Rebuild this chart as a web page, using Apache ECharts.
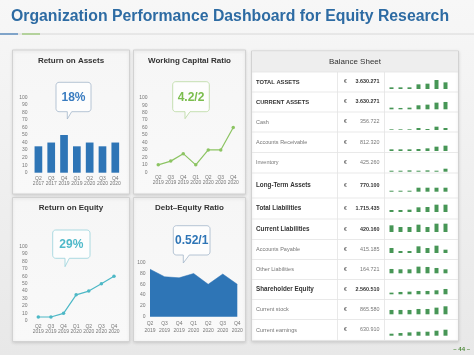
<!DOCTYPE html>
<html><head><meta charset="utf-8">
<script src="https://cdn.jsdelivr.net/npm/echarts@6/dist/echarts.min.js"></script>
<style>html,body{margin:0;padding:0;background:#eee}#c{width:474px;height:355px}</style>
</head><body><div id="c"></div>
<script>
// ---------------- DATA ----------------
const pageTitle = 'Organization Performance Dashboard for Equity Research';
const panelTitles = ['Return on Assets', 'Working Capital Ratio', 'Return on Equity', 'Debt–Equity Ratio'];
const kpiTexts = ['18%', '4.2/2', '29%', '0.52/1'];

const roaCategories = ['Q2\n2017', 'Q3\n2017', 'Q4\n2019', 'Q1\n2019', 'Q2\n2020', 'Q3\n2020', 'Q4\n2020'];
const roaValues = [35, 40, 50, 35, 40, 35, 40];

const wcrCategories = ['Q2\n2019', 'Q3\n2019', 'Q4\n2019', 'Q1\n2020', 'Q2\n2020', 'Q3\n2020', 'Q4\n2020'];
const wcrValues = [10, 15, 25, 10, 30, 30, 60];

const roeCategories = ['Q2\n2019', 'Q3\n2019', 'Q4\n2019', 'Q1\n2020', 'Q2\n2020', 'Q3\n2020', 'Q4\n2020'];
const roeValues = [5, 5, 10, 35, 40, 50, 60];

const derCategories = ['Q2\n2019', 'Q3\n2019', 'Q4\n2019', 'Q1\n2020', 'Q2\n2020', 'Q3\n2020', 'Q4\n2020'];
const derValues = [88, 74, 72, 80, 60, 79, 60];

const bsTitle = 'Balance Sheet';
const bsLabels = ['TOTAL ASSETS', 'CURRENT ASSETS', 'Cash', 'Accounts Receivable', 'Inventory',
  'Long-Term Assets', 'Total Liabilities', 'Current Liabilities', 'Accounts Payable', 'Other Liabilities',
  'Shareholder Equity', 'Current stock', 'Current earnings'];
const bsCurrency = '€';
const bsValues = ['3.630.271', '3.630.271', '356.722', '812.320', '425.260', '770.100', '1.715.435',
  '420.160', '415.185', '164.721', '2.560.510', '865.580', '630.910'];
const bsSparkTotalAssets = [5, 5, 5, 14, 16, 27, 20];
const bsSparkCurrentAssets = [5, 4, 5, 12, 14, 20, 22];
const bsSparkCash = [2, 2, 2, 6, 3, 10, 6];
const bsSparkReceivable = [5, 5, 5, 6, 8, 13, 16];
const bsSparkInventory = [3, 3, 4, 3, 4, 3, 9];
const bsSparkLongTerm = [3, 3, 3, 12, 12, 12, 12];
const bsSparkTotalLiab = [6, 6, 7, 14, 15, 22, 22];
const bsSparkCurrentLiab = [20, 15, 15, 22, 15, 25, 25];
const bsSparkPayable = [15, 6, 6, 20, 15, 22, 10];
const bsSparkOtherLiab = [13, 12, 12, 20, 19, 16, 12];
const bsSparkEquity = [5, 7, 8, 10, 10, 12, 16];
const bsSparkStock = [13, 13, 13, 16, 16, 20, 24];
const bsSparkEarnings = [6, 8, 10, 12, 12, 15, 18];
const pageNumber = '– 44 –';

// ---------------- LAYOUT / STYLE ----------------
const sparkSets = [bsSparkTotalAssets, bsSparkCurrentAssets, bsSparkCash, bsSparkReceivable, bsSparkInventory,
  bsSparkLongTerm, bsSparkTotalLiab, bsSparkCurrentLiab, bsSparkPayable, bsSparkOtherLiab,
  bsSparkEquity, bsSparkStock, bsSparkEarnings];
const rowLines = [72, 92, 112, 132, 152.5, 173, 198, 219, 239.5, 259.5, 279.5, 299.5, 319.5, 340.5];
const sparkBase = [89, 109.3, 130, 151, 171.7, 191.7, 212, 232, 253, 273.3, 294.3, 314.3, 335.7];
const boldCaps = [0, 1];
const boldRows = [5, 6, 7, 10];

const BLUE = '#2e75b6';
const GREEN = '#8cc462';
const TEAL = '#4db8c6';
const SPARK = '#479656';
const FONT = '"Liberation Sans", Arial, sans-serif';

const chart = echarts.init(document.getElementById('c'), null, {renderer: 'canvas'});

function arcPts(cx, cy, r, a0, a1) {
  const pts = [];
  for (let k = 0; k <= 4; k++) {
    const a = a0 + (a1 - a0) * k / 4;
    pts.push([cx + r * Math.cos(a), cy + r * Math.sin(a)]);
  }
  return pts;
}
function bubblePoints(x, y, w, h, r, px, pw, ph) {
  const P = Math.PI;
  let pts = [];
  pts = pts.concat(arcPts(x + r, y + r, r, P, 1.5 * P));
  pts = pts.concat(arcPts(x + w - r, y + r, r, 1.5 * P, 2 * P));
  pts = pts.concat(arcPts(x + w - r, y + h - r, r, 0, 0.5 * P));
  pts.push([px + pw, y + h], [px, y + h + ph], [px, y + h]);
  pts = pts.concat(arcPts(x + r, y + h - r, r, 0.5 * P, P));
  return pts;
}

const graphics = [];
graphics.push({type: 'rect', shape: {x: 0, y: 0, width: 474, height: 355}, z: -10,
  style: {fill: new echarts.graphic.LinearGradient(0, 0, 0, 1, [{offset: 0, color: '#f7f7f7'}, {offset: 1, color: '#e8e8e8'}])}});
graphics.push({type: 'line', shape: {x1: 0, y1: 34, x2: 474, y2: 34}, style: {stroke: '#d8d8d8', lineWidth: 1}, z: -5});
graphics.push({type: 'line', shape: {x1: 0, y1: 34, x2: 18, y2: 34}, style: {stroke: '#3b78b5', lineWidth: 1.2}, z: -4});
graphics.push({type: 'line', shape: {x1: 22, y1: 34, x2: 40, y2: 34}, style: {stroke: '#92c46a', lineWidth: 1.2}, z: -4});

const panels = [
  {x: 12.5, y: 50, w: 117, h: 144},
  {x: 133.5, y: 50, w: 112, h: 144},
  {x: 12.5, y: 197.5, w: 117, h: 144},
  {x: 133.5, y: 197.5, w: 112, h: 144}
];
panels.forEach((p, i) => {
  graphics.push({type: 'rect', shape: {x: p.x, y: p.y, width: p.w, height: p.h}, z: -3,
    style: {fill: new echarts.graphic.LinearGradient(0, 0, 0, 1, [{offset: 0, color: '#f6f6f6'}, {offset: 1, color: '#f9f9f9'}]),
      stroke: '#d2d2d2', lineWidth: 1, shadowBlur: 3, shadowColor: 'rgba(0,0,0,0.12)', shadowOffsetY: 1}});
  graphics.push({type: 'text', x: p.x + p.w / 2, y: p.y + 10.5, z: 1,
    style: {text: panelTitles[i], fill: '#333', font: 'bold 8px ' + FONT, textAlign: 'center', textVerticalAlign: 'middle'}});
});

const bubbles = [
  {x: 56, y: 82.3, w: 35, h: 29.4, px: 67.3, pw: 4.4, ph: 7.3, stroke: '#a3b6ca', color: '#3a7cc0'},
  {x: 172.7, y: 81.7, w: 36.6, h: 30, px: 185, pw: 5, ph: 7, stroke: '#b8d89e', color: '#7bbd4e'},
  {x: 52.7, y: 230, w: 37.3, h: 28.3, px: 65, pw: 4.3, ph: 8.4, stroke: '#98d2da', color: '#4fb9c9'},
  {x: 173.3, y: 225.7, w: 36.7, h: 29.3, px: 183.3, pw: 6, ph: 8, stroke: '#a3b6ca', color: BLUE}
];
bubbles.forEach((b, i) => {
  graphics.push({type: 'polygon', z: 1, shape: {points: bubblePoints(b.x, b.y, b.w, b.h, 3, b.px, b.pw, b.ph)},
    style: {fill: '#fdfdfd', stroke: b.stroke, lineWidth: 0.8}});
  graphics.push({type: 'text', x: b.x + b.w / 2, y: b.y + b.h / 2 + 0.5, z: 2,
    style: {text: kpiTexts[i], fill: b.color, font: 'bold 12px ' + FONT, textAlign: 'center', textVerticalAlign: 'middle'}});
});

graphics.push({type: 'rect', shape: {x: 251.5, y: 51, width: 207, height: 290}, z: -3,
  style: {fill: '#ffffff', stroke: '#d2d2d2', lineWidth: 1, shadowBlur: 3, shadowColor: 'rgba(0,0,0,0.12)', shadowOffsetY: 1}});
graphics.push({type: 'rect', shape: {x: 252, y: 51.5, width: 206, height: 20.5}, z: -2, style: {fill: '#eeeeee'}});
graphics.push({type: 'text', x: 355, y: 62, z: 1,
  style: {text: bsTitle, fill: '#333', font: '8px ' + FONT, textAlign: 'center', textVerticalAlign: 'middle'}});
rowLines.forEach(y => {
  graphics.push({type: 'line', z: -1, shape: {x1: 252, y1: y, x2: 458, y2: y}, style: {stroke: '#e3e3e3', lineWidth: 0.8}});
});
[337.5, 384.5].forEach(x => {
  graphics.push({type: 'line', z: -1, shape: {x1: x, y1: 72, x2: x, y2: 340.5}, style: {stroke: '#e3e3e3', lineWidth: 0.8}});
});
bsLabels.forEach((lab, i) => {
  const cy = (rowLines[i] + rowLines[i + 1]) / 2;
  const isBold = boldCaps.includes(i) || boldRows.includes(i);
  let font, fill;
  if (boldCaps.includes(i)) { font = 'bold 5.8px ' + FONT; fill = '#333'; }
  else if (boldRows.includes(i)) { font = 'bold 6.3px ' + FONT; fill = '#333'; }
  else { font = '5.5px ' + FONT; fill = '#777'; }
  graphics.push({type: 'text', x: 256, y: cy, z: 1, style: {text: lab, fill, font, textVerticalAlign: 'middle'}});
  graphics.push({type: 'text', x: 344, y: cy, z: 1, style: {text: bsCurrency, fill: '#555', font: '5.4px ' + FONT, textVerticalAlign: 'middle'}});
  graphics.push({type: 'text', x: 379.5, y: cy, z: 1, style: {text: bsValues[i], fill: isBold ? '#333' : '#777',
    font: (isBold ? 'bold ' : '') + '5.4px ' + FONT, textAlign: 'right', textVerticalAlign: 'middle'}});
});
graphics.push({type: 'text', x: 470, y: 349, z: 1,
  style: {text: pageNumber, fill: '#4f8a3c', font: 'bold 6px ' + FONT, textAlign: 'right', textVerticalAlign: 'middle'}});

// ---------------- CHART GRIDS ----------------
const axisLabelSmall = {fontSize: 5, color: '#777', fontFamily: FONT};
const grids = [
  {left: 32, top: 97.3, width: 89.7, height: 75.4},
  {left: 152, top: 97.7, width: 87.5, height: 74.6},
  {left: 32, top: 246.7, width: 88.3, height: 74},
  {left: 150, top: 262.7, width: 87.3, height: 54}
];
const xAxes = [
  {gridIndex: 0, type: 'category', data: roaCategories, boundaryGap: true},
  {gridIndex: 1, type: 'category', data: wcrCategories, boundaryGap: true},
  {gridIndex: 2, type: 'category', data: roeCategories, boundaryGap: true},
  {gridIndex: 3, type: 'category', data: derCategories, boundaryGap: false}
].map((a, i) => Object.assign(a, {
  axisLine: {show: false}, axisTick: {show: false}, splitLine: {show: false},
  axisLabel: Object.assign({}, axisLabelSmall, {interval: 0, margin: 3, lineHeight: i === 3 ? 7.5 : 5})
}));
const yAxes = [
  {gridIndex: 0, interval: 10}, {gridIndex: 1, interval: 10}, {gridIndex: 2, interval: 10}, {gridIndex: 3, interval: 20}
].map(a => Object.assign(a, {
  type: 'value', min: 0, max: 100,
  axisLine: {show: false}, axisTick: {show: false}, splitLine: {show: false},
  axisLabel: Object.assign({}, axisLabelSmall, {margin: 4.5})
}));
const series = [
  {type: 'bar', xAxisIndex: 0, yAxisIndex: 0, data: roaValues, barWidth: 7.7, itemStyle: {color: BLUE}},
  {type: 'line', xAxisIndex: 1, yAxisIndex: 1, data: wcrValues, symbol: 'circle', symbolSize: 3.5,
    lineStyle: {color: GREEN, width: 1.2}, itemStyle: {color: GREEN}},
  {type: 'line', xAxisIndex: 2, yAxisIndex: 2, data: roeValues, symbol: 'circle', symbolSize: 3.5,
    lineStyle: {color: TEAL, width: 1.2}, itemStyle: {color: TEAL}},
  {type: 'line', xAxisIndex: 3, yAxisIndex: 3, data: derValues, symbol: 'none',
    lineStyle: {color: BLUE, width: 0.5}, areaStyle: {color: BLUE, opacity: 1}}
];
sparkSets.forEach((vals, i) => {
  const gi = grids.length;
  grids.push({left: 387, top: sparkBase[i] - 9, width: 63, height: 9});
  xAxes.push({gridIndex: gi, type: 'category', data: vals.map((_, k) => k), show: false});
  yAxes.push({gridIndex: gi, type: 'value', min: 0, max: 27, show: false});
  series.push({type: 'bar', xAxisIndex: gi, yAxisIndex: gi, data: vals, barWidth: 4, itemStyle: {color: SPARK}, silent: true});
});

chart.setOption({
  animation: false,
  title: {text: pageTitle, left: 11, top: 9, padding: 0,
    textStyle: {fontSize: 15.8, fontWeight: 'bold', color: '#2d6ba3', fontFamily: FONT}},
  graphic: {elements: graphics},
  grid: grids,
  xAxis: xAxes,
  yAxis: yAxes,
  series: series
});
</script>
</body></html>
